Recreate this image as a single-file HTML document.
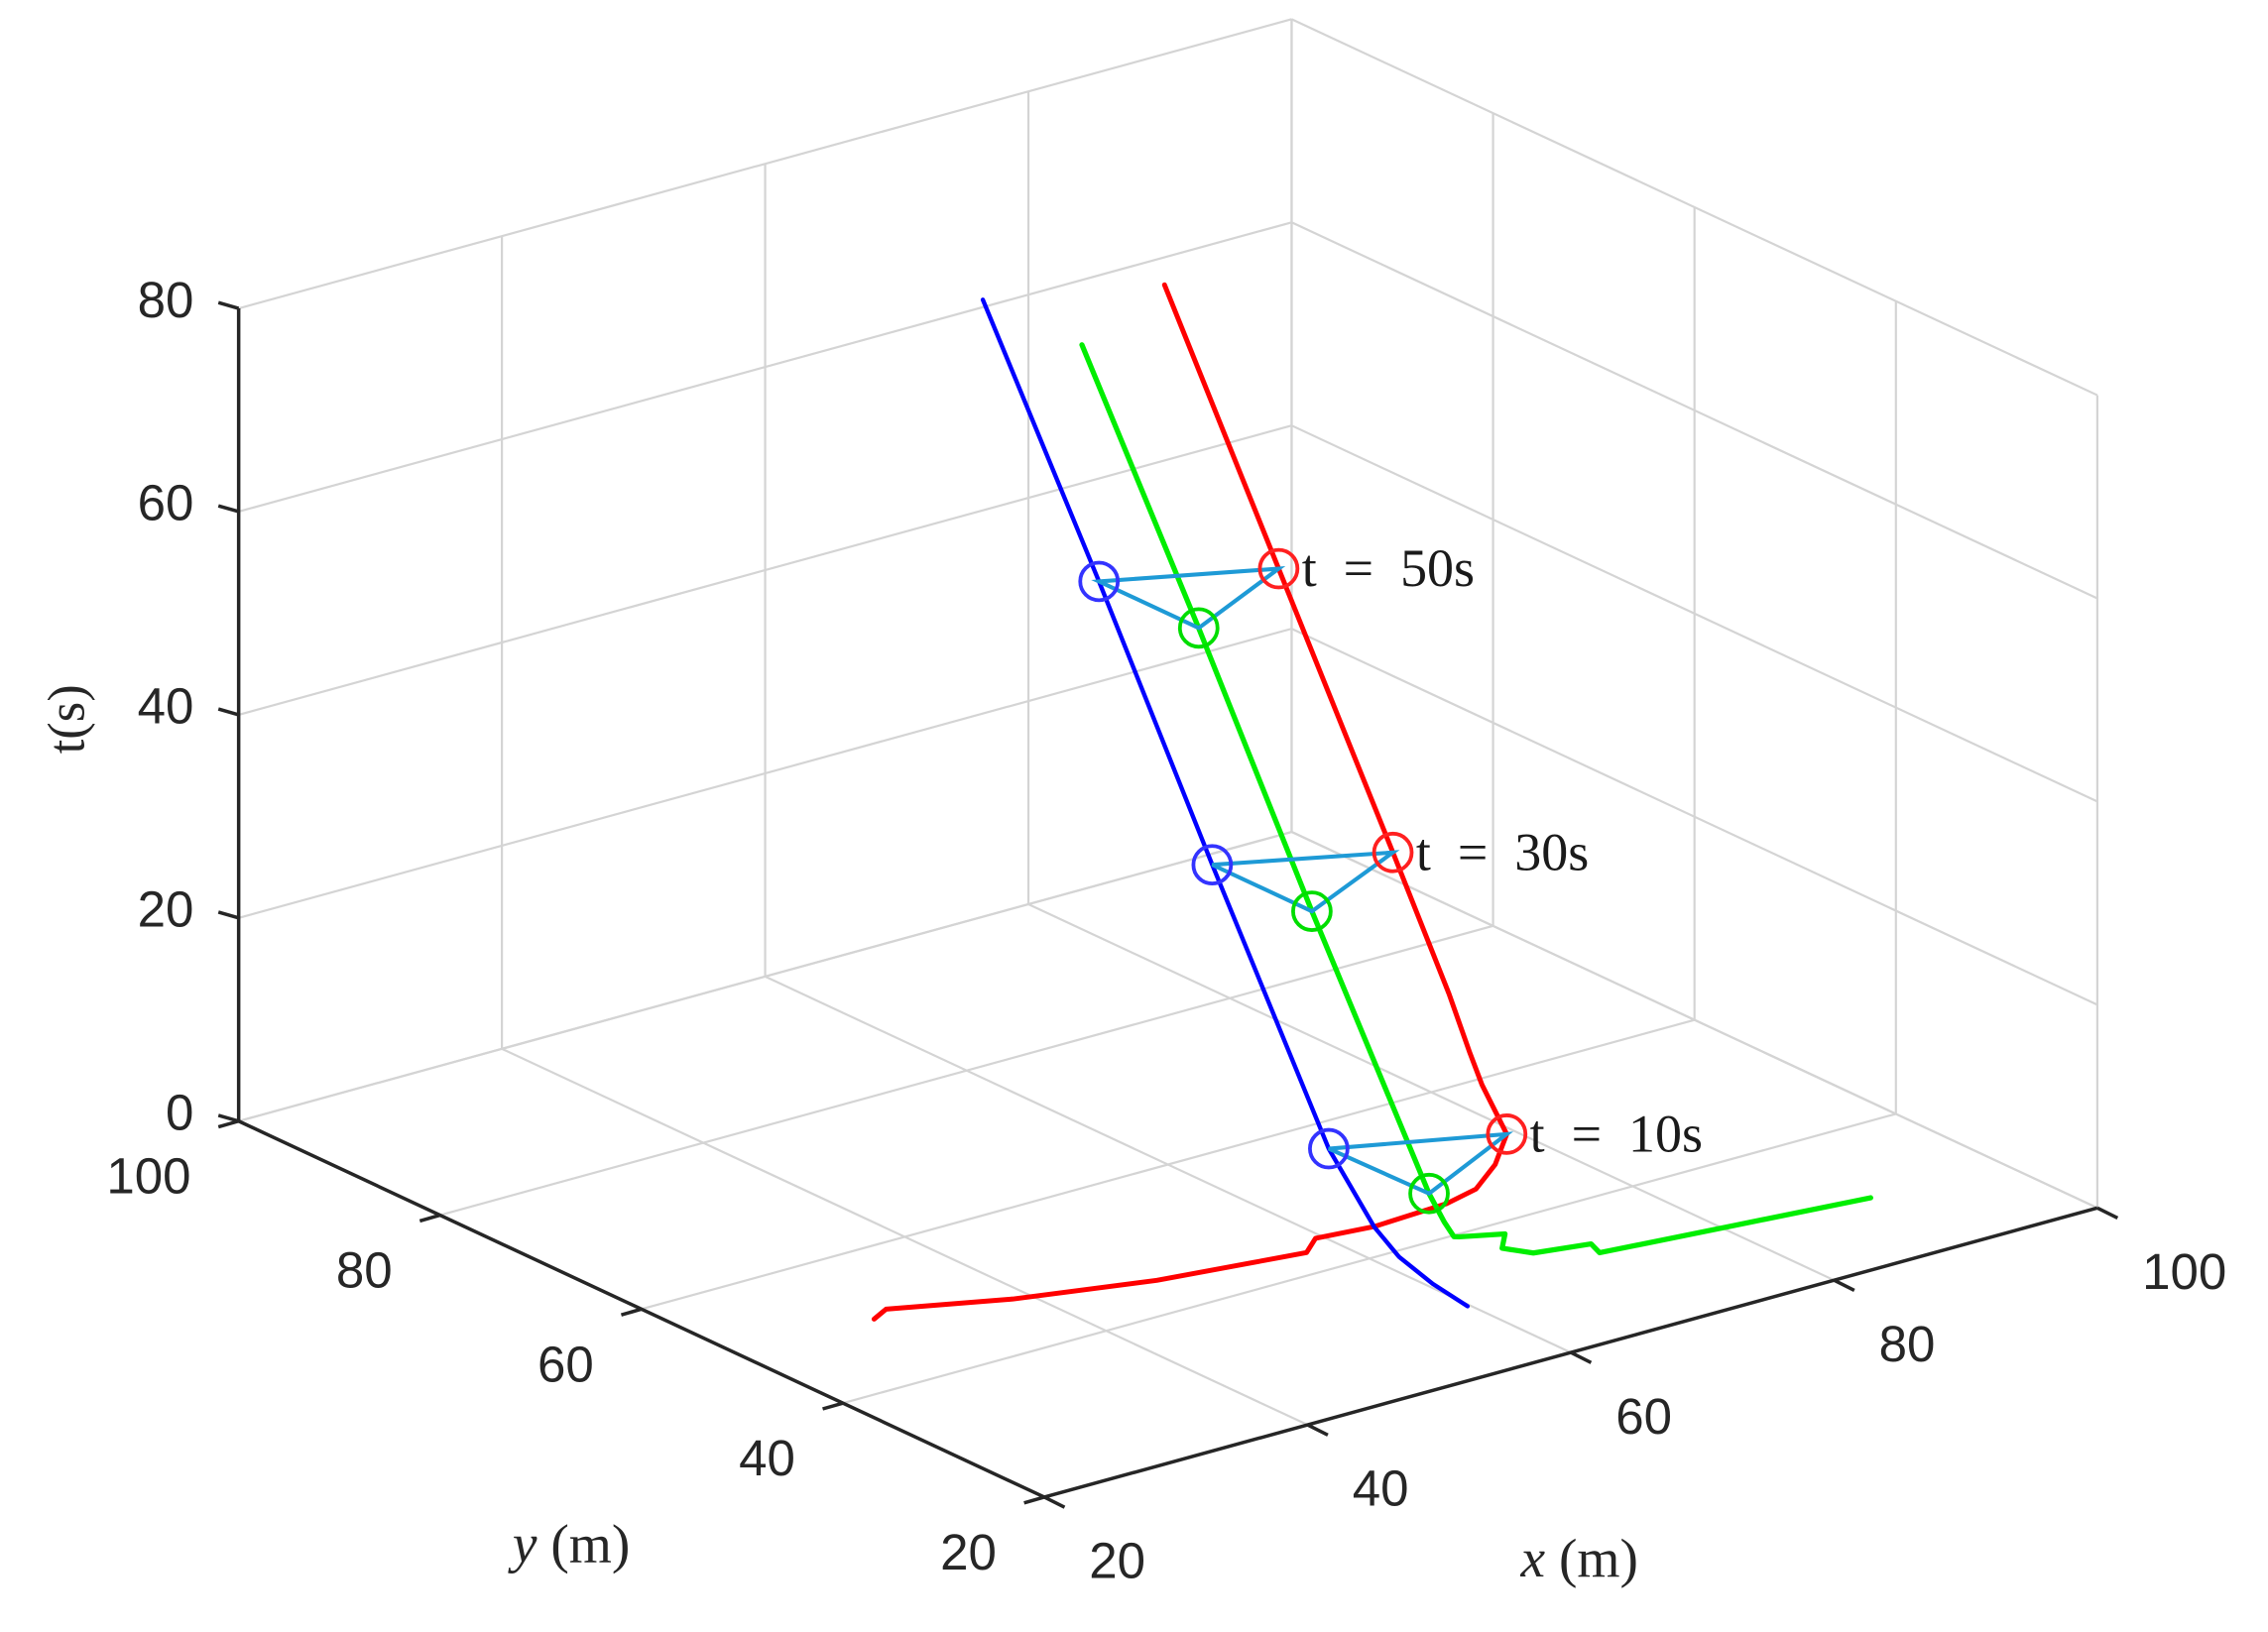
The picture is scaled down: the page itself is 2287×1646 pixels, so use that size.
<!DOCTYPE html>
<html><head><meta charset="utf-8"><style>
html,body{margin:0;padding:0;background:#fff;}
svg{display:block;}
</style></head><body>
<svg id="chart" width="2287" height="1646" viewBox="0 0 1568 1128" xmlns="http://www.w3.org/2000/svg">
<g id="grid"></g>
<g id="axes"></g>
<g id="series"></g>
<text x="58" y="497" transform="rotate(-90 58 497)" text-anchor="middle" font-family="Liberation Serif, serif" font-size="36" fill="#262626">t(s)</text>
<text x="395" y="1080" text-anchor="middle" font-family="Liberation Serif, serif" font-size="38" fill="#262626"><tspan font-style="italic">y</tspan> (m)</text>
<text x="1092" y="1090" text-anchor="middle" font-family="Liberation Serif, serif" font-size="38" fill="#262626"><tspan font-style="italic">x</tspan> (m)</text>
</svg>
<script>
const xTicks=[20,40,60,80,100];
const yTicks=[20,40,60,80,100];
const tTicks=[0,20,40,60,80];
// trajectories: x, y, t
const blueX=[66.9,64.4,61.6,58.9,59.3,59.5,59.6,59.8];
const blueY=[87.4,72.6,57.7,42.6,38.6,36.4,33.2,30.0];
const blueT=[70,50,30,10,4,2,0.8,0];
const redX=[77.1,74.3,71.5,70.1,71.3,70.7,68.9,69.4,69.1,69.3,63.5,59.5,57.6,47.6,38.8,31.7,30.1];
const redY=[82.7,67.7,52.7,45.3,44.8,42.8,38.0,39.8,41.3,44.5,44.1,44.7,43.1,44.9,47.7,51.0,50.1];
const redT=[70,50,30,20,14,12,10,6,3,0,0,0,0,0,0,0,0];
const greenX=[67.0,64.4,61.6,59.1,62.1,64.2,66.5,69.0,67.4,68.4,72.1,71.6,80.9,90.2];
const greenY=[77.7,62.7,47.8,32.9,35.3,37.1,39.6,38.3,36.5,34.7,33.8,32.3,31.0,29.7];
const greenT=[70,50,30,10,5,2,0,0,0,0,0,0,0,0];
const snapTimes=[50,30,10];
const snapLabels=["t  =  50s","t  =  30s","t  =  10s"];
const snapBlueX=[64.4,61.6,58.9], snapBlueY=[72.6,57.7,42.6];
const snapRedX=[74.3,71.5,68.9], snapRedY=[67.7,52.7,38.0];
const snapGreenX=[64.4,61.6,59.1], snapGreenY=[62.7,47.8,32.9];

const O=[722,1035];
function P(x,y,t){
  const a=(x-20)/80,b=(y-20)/80,c=t/80;
  return [O[0]+a*728+b*(-557), O[1]+a*(-200)+b*(-260)+c*(-562)];
}
const NS="http://www.w3.org/2000/svg";
function mk(tag,attrs,parent){const e=document.createElementNS(NS,tag);for(const k in attrs)e.setAttribute(k,attrs[k]);parent.appendChild(e);return e;}
const grid=document.getElementById('grid'),axes=document.getElementById('axes'),series=document.getElementById('series');
const gs={stroke:"#d4d4d4","stroke-width":1.5,fill:"none"};
function line(p,q,st,parent,name){const e=mk('line',Object.assign({x1:p[0],y1:p[1],x2:q[0],y2:q[1]},st),parent);

return e;}
xTicks.forEach(x=>{line(P(x,20,0),P(x,100,0),gs,grid,'floor-grid-x');});
yTicks.forEach(y=>{line(P(20,y,0),P(100,y,0),gs,grid,'floor-grid-y');});
xTicks.forEach(x=>{line(P(x,100,0),P(x,100,80),gs,grid,'wall-grid-x');});
tTicks.forEach(t=>{line(P(20,100,t),P(100,100,t),gs,grid,'wall-grid-t');});
yTicks.forEach(y=>{line(P(100,y,0),P(100,y,80),gs,grid,'wall-grid-y');});
tTicks.forEach(t=>{line(P(100,20,t),P(100,100,t),gs,grid,'wall-grid-t-right');});
const as={stroke:"#262626","stroke-width":2.4,fill:"none"};
line(P(20,100,0),P(20,20,0),as,axes,'y-axis-line');
line(P(20,20,0),P(100,20,0),as,axes,'x-axis-line');
line(P(20,100,0),P(20,100,80),as,axes,'t-axis-line');
const font="Liberation Sans, sans-serif";
function txt(x,y,s,anchor,name,parent){const e=mk('text',{x:x,y:y,'text-anchor':anchor,'font-family':font,'font-size':35,fill:'#262626'},parent);e.textContent=s;

return e;}
xTicks.forEach(x=>{const p=P(x,20,0);line(p,[p[0]+14,p[1]+7],as,axes,'x-tick');txt(p[0]+31,p[1]+56,String(x),'start','x-tick-label',axes);});
yTicks.forEach(y=>{const p=P(20,y,0);line(p,[p[0]-14,p[1]+4],as,axes,'y-tick');txt(p[0]-33,p[1]+50,String(y),'end','y-tick-label',axes);});
tTicks.forEach(t=>{const p=P(20,100,t);line(p,[p[0]-14,p[1]-4],as,axes,'t-tick');txt(p[0]-31,p[1]+6,String(t),'end','t-tick-label',axes);});
function path(X,Y,T,color,w,name){const d=X.map((x,i)=>{const p=P(x,Y[i],T[i]);return (i?'L':'M')+p[0].toFixed(1)+','+p[1].toFixed(1);}).join('');
const e=mk('path',{d:d,stroke:color,'stroke-width':w,fill:'none','stroke-linejoin':'round','stroke-linecap':'round'},series);

}
path(redX,redY,redT,'#ff0000',3.4,'red-trajectory');
path(blueX,blueY,blueT,'#0000ff',3,'blue-trajectory');
path(greenX,greenY,greenT,'#00ee00',3.6,'green-trajectory');
snapTimes.forEach((t,i)=>{
  const b=P(snapBlueX[i],snapBlueY[i],t),r=P(snapRedX[i],snapRedY[i],t),g=P(snapGreenX[i],snapGreenY[i],t);
  const tri=mk('polygon',{points:[b,r,g].map(p=>p.join(',')).join(' '),stroke:'#1e9ad6','stroke-width':2.8,fill:'none'},series);
  
  
  [[b,'#3333ff','blue-marker'],[r,'#ff2020','red-marker'],[g,'#00dd00','green-marker']].forEach(([p,c,n])=>{
    const e=mk('circle',{cx:p[0],cy:p[1],r:13,stroke:c,'stroke-width':2.6,fill:'none'},series);
    
    
  });
  const l=mk('text',{x:r[0]+16,y:r[1]+12,'font-family':'Liberation Serif, serif','font-size':37,fill:'#1a1a1a','xml:space':'preserve'},series);
  l.setAttribute('style','white-space:pre');
  l.textContent=snapLabels[i];
  
  
});
</script>
</body></html>
